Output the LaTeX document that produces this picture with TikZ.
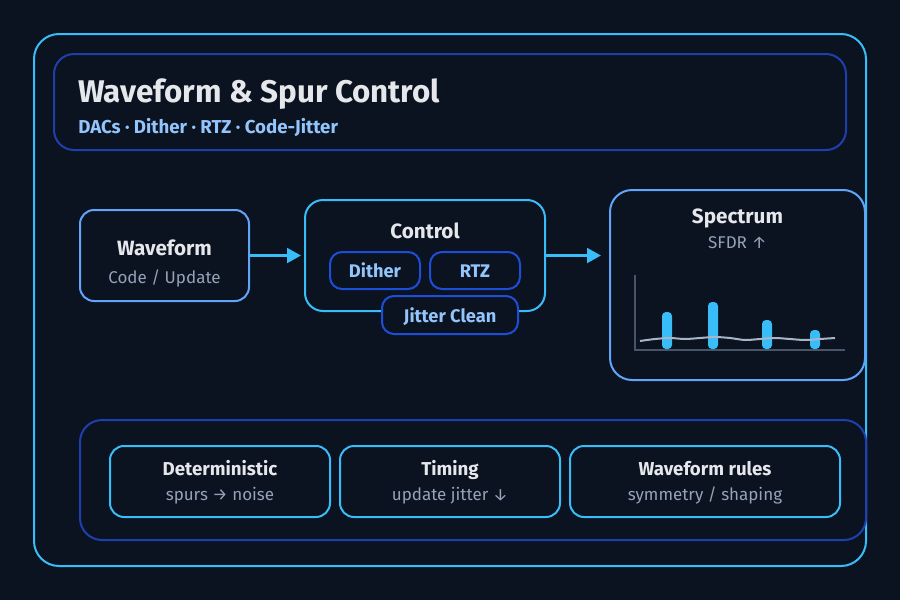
\documentclass[tikz,border=0pt]{standalone}
\usepackage{fontspec}
\setmainfont{Fira Sans}
\usepackage{xcolor}
\usetikzlibrary{arrows.meta, positioning}
\definecolor{corFundo}{RGB}{11,18,32}
\definecolor{corCiano}{RGB}{56,189,248}
\definecolor{corAzul}{RGB}{96,165,250}
\definecolor{corEscura}{RGB}{30,64,175}
\definecolor{corChip}{RGB}{29,78,216}
\definecolor{corTexto}{RGB}{229,231,235}
\definecolor{corSub}{RGB}{147,197,253}
\definecolor{corCinza}{RGB}{148,163,184}
\definecolor{corEixo}{RGB}{71,85,105}

\begin{document}
\begin{tikzpicture}[x=0.75pt, y=-0.75pt, every node/.style={text=corTexto, inner sep=0pt}]
    \tikzstyle{caixa}=[rectangle, line width=1.5pt, fill=corFundo]
    \tikzstyle{chip}=[caixa, draw=corChip, rounded corners=9pt, minimum width=67.5pt,
      minimum height=27.75pt]
    \tikzstyle{regra}=[caixa, draw=corCiano, rounded corners=10.5pt, minimum height=53.25pt]
    \tikzstyle{titulo}=[font=\fontsize{15.5}{17}\selectfont\bfseries, anchor=base]
    \tikzstyle{nota}=[font=\fontsize{12.75}{14}\selectfont, text=corCinza, anchor=base]
    \tikzstyle{rotulo}=[font=\fontsize{13.7}{15}\selectfont\bfseries, text=corSub, anchor=base]
    \tikzstyle{seta}=[-{Triangle[length=10.5pt, width=11pt]}, line width=2.25pt, draw=corCiano]

    \fill[corFundo] (0,0) rectangle (900,600);
    \useasboundingbox (0,0) rectangle (900,600);

    \node[caixa, draw=corCiano, rounded corners=18.75pt, minimum width=624pt,
      minimum height=399pt] (frame) at (450,300) {};
    \node[caixa, draw=corEscura, rounded corners=15pt, minimum width=594pt,
      minimum height=72pt] (header) at (450,102) {};
    \node[font=\fontsize{23.5}{26}\selectfont\bfseries, anchor=base west] (title) at (78,102)
      {Waveform \& Spur Control};
    \node[font=\fontsize{14}{16}\selectfont\bfseries, text=corSub, anchor=base west] (subtitle)
      at (78,133) {DACs · Dither · RTZ · Code-Jitter};

    \node[caixa, draw=corAzul, rounded corners=10.5pt, minimum width=126.75pt,
      minimum height=68.25pt] (wave) at (164.5,255.5) {};
    \node[titulo] (waveT) at (164.5,255) {Waveform};
    \node[nota] (waveN) at (164.5,283) {Code / Update};

    \node[caixa, draw=corCiano, rounded corners=13.5pt, minimum width=180pt,
      minimum height=83.25pt] (control) at (425,255.5) {};
    \node[titulo] (controlT) at (425,238) {Control};
    \node[chip] (dither) at (375,270.5) {};
    \node[rotulo] at (375,277) {Dither};
    \node[chip] (rtz) at (475,270.5) {};
    \node[rotulo] at (475,277) {RTZ};
    \node[chip, minimum width=102pt, minimum height=28.5pt] (jitter) at (450,315) {};
    \node[rotulo] at (450,322) {Jitter Clean};

    \node[caixa, draw=corAzul, rounded corners=16.5pt, minimum width=191.25pt,
      minimum height=142.5pt] (spectrum) at (737.5,285) {};
    \node[titulo] (spectrumT) at (737.5,223) {Spectrum};
    \node[nota] (spectrumN) at (737.5,248) {SFDR ↑};
    \draw[corEixo, line width=1.5pt] (635,275) -- (635,350) -- (845,350);
    \fill[corCiano, rounded corners=3pt] (662,349) rectangle (672,312);
    \fill[corCiano, rounded corners=3pt] (708,349) rectangle (718,302);
    \fill[corCiano, rounded corners=3pt] (762,349) rectangle (772,320);
    \fill[corCiano, rounded corners=3pt] (810,349) rectangle (820,330);
    \draw[corCinza!80, line width=1.5pt] plot[smooth] coordinates {(640,341) (655,339)
      (670,338) (685,339) (700,338) (715,337) (730,338) (745,340) (760,339) (775,338)
      (790,339) (805,340) (820,339) (835,338)};

    \draw[seta, shorten >=2.25pt] (wave.east) -- (control.west);
    \draw[seta, shorten >=6pt] (control.east) -- (control.east -| spectrum.west);

    \node[caixa, draw=corEscura, rounded corners=16.5pt, minimum width=589.5pt,
      minimum height=90pt] (rules) at (473,480) {};
    \node[regra, minimum width=165pt] (determ) at (220,481.5) {};
    \node[titulo, font=\fontsize{14}{16}\selectfont\bfseries] at (220,475) {Deterministic};
    \node[nota] at (220,500) {spurs → noise};
    \node[regra, minimum width=165pt] (timing) at (450,481.5) {};
    \node[titulo, font=\fontsize{14}{16}\selectfont\bfseries] at (450,475) {Timing};
    \node[nota] at (450,500) {update jitter ↓};
    \node[regra, minimum width=202.5pt] (wrules) at (705,481.5) {};
    \node[titulo, font=\fontsize{14}{16}\selectfont\bfseries] at (705,475) {Waveform rules};
    \node[nota] at (705,500) {symmetry / shaping};
  \end{tikzpicture}
\end{document}
